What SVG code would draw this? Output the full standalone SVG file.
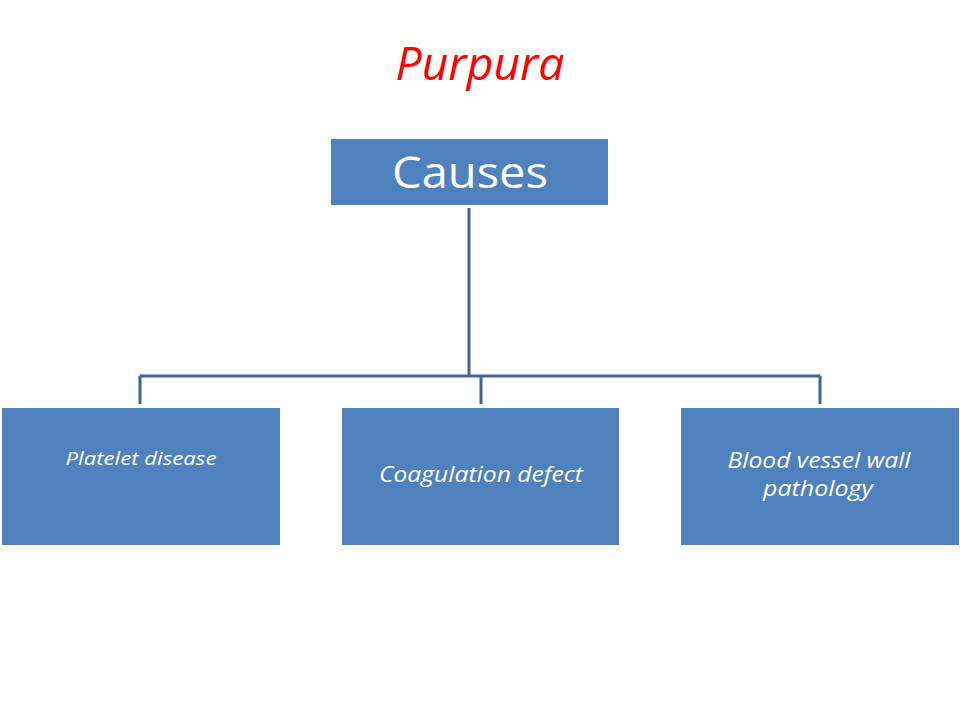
<svg xmlns="http://www.w3.org/2000/svg" width="960" height="720" viewBox="0 0 960 720">
<style>
.box{fill:#4F81BD;}
.t{font-family:"Open Sans","Liberation Sans",sans-serif;fill:#fff;text-anchor:middle;}
.i{font-style:italic;}
.c{stroke:#3C6695;stroke-width:3;fill:none;}
</style>
<rect width="960" height="720" fill="#fff"/>
<text x="480" y="80" font-family="Open Sans, Liberation Sans, sans-serif" font-style="italic" font-size="45" fill="#FF0000" text-anchor="middle" textLength="169" lengthAdjust="spacingAndGlyphs">Purpura</text>
<g id="causes"><rect class="box" x="331" y="139" width="277" height="66"/><text class="t" x="470" y="188" font-size="44" textLength="156" lengthAdjust="spacingAndGlyphs">Causes</text></g>
<g id="connectors">
<path class="c" d="M469 208V376M140 376H820M140 376V404M481 376V404M820 376V404"/>
</g>
<g id="platelet"><rect class="box" x="2" y="408" width="278" height="137"/><text class="t i" x="141" y="465" font-size="19" textLength="151" lengthAdjust="spacingAndGlyphs">Platelet disease</text></g>
<g id="coag"><rect class="box" x="342" y="408" width="277" height="137"/><text class="t i" x="481" y="482" font-size="21" textLength="204" lengthAdjust="spacingAndGlyphs">Coagulation defect</text></g>
<g id="vessel"><rect class="box" x="681" y="408" width="278" height="137"/><text class="t i" x="819" y="468" font-size="21" textLength="183" lengthAdjust="spacingAndGlyphs">Blood vessel wall</text><text class="t i" x="818" y="496" font-size="21" textLength="110" lengthAdjust="spacingAndGlyphs">pathology</text></g>
</svg>
